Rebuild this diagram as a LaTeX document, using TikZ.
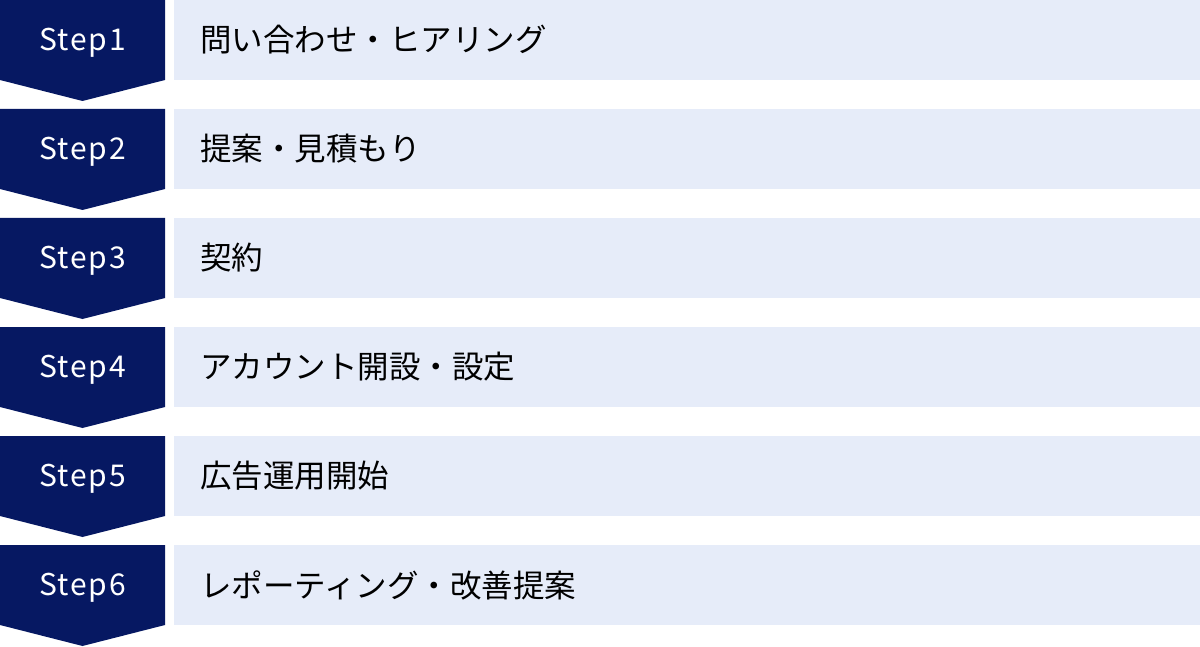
\documentclass[tikz,border=0pt]{standalone}
\usepackage{fontspec}
\setmainfont{Noto Sans}
\newfontfamily\jpfont{Noto Sans CJK JP}
\newfontfamily\stepfont{Noto Sans CJK JP}[LetterSpace=6]
\usetikzlibrary{positioning}
\definecolor{navy}{HTML}{061862}
\definecolor{paleblue}{HTML}{E6ECF9}
\tikzstyle{steplabel}=[text=white,font=\stepfont\fontsize{30}{36}\selectfont,inner sep=0pt]
\tikzstyle{tasklabel}=[text=black,font=\jpfont\fontsize{31.5}{36}\selectfont,inner sep=0pt,anchor=west]

\begin{document}
\begin{tikzpicture}[x=1pt,y=-1pt]
    \useasboundingbox (0,0) rectangle (1200,647);
    % One row for each step: the arrow on the left, the task bar on the right
    \foreach \n/\task in {1/問い合わせ・ヒアリング, 2/提案・見積もり, 3/契約, 4/アカウント開設・設定, 5/広告運用開始, 6/レポーティング・改善提案}
    {
        \pgfmathsetmacro{\top}{109*(\n-1)}
        \fill[navy] (0,\top) -- ++(165,0) -- ++(0,80) -- ++(-82.5,21) -- ++(-82.5,-21) -- cycle;
        \fill[paleblue] (174,\top) rectangle ++(1026,80);
        \node[steplabel] (step\n) at (82.5,\top+43) {Step\n};
        \node[tasklabel] (task\n) at (200,\top+40) {\task};
    }
\end{tikzpicture}
\end{document}
